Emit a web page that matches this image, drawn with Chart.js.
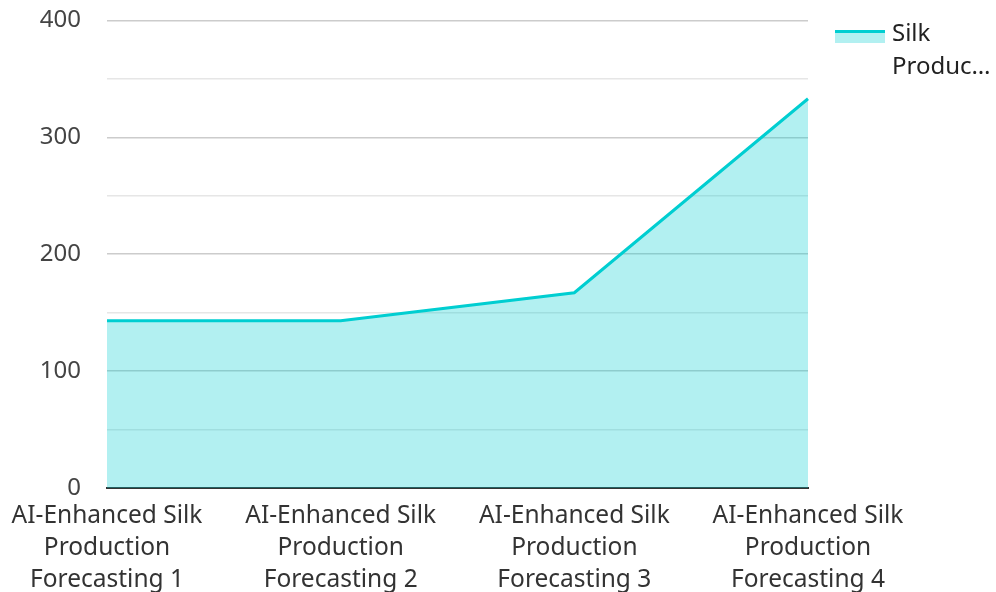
<!DOCTYPE html>
<html>
<head>
<meta charset="utf-8">
<script src="https://cdn.jsdelivr.net/npm/chart.js@4.4.1/dist/chart.umd.min.js"></script>
<style>
  html, body { margin: 0; padding: 0; background: #fff; overflow: hidden; }
  #wrap { width: 996px; height: 600px; }
</style>
</head>
<body>
<div id="wrap"><canvas id="myChart" width="996" height="600"></canvas></div>
<script>
var teal = "rgba(0, 206, 209, 1)";
var tealFill = "rgba(0, 206, 209, 0.3)";

var xValues = [
  ["AI-Enhanced Silk", "Production", "Forecasting 1"],
  ["AI-Enhanced Silk", "Production", "Forecasting 2"],
  ["AI-Enhanced Silk", "Production", "Forecasting 3"],
  ["AI-Enhanced Silk", "Production", "Forecasting 4"]
];
var yValues = [143, 143, 167, 333];
var seriesName = "Silk Production";
var legendLines = ["Silk", "Produc\u2026"];

var font = "'Noto Sans', 'Open Sans', sans-serif";

// legend swatch: light box with a thick line on top
var legendSwatch = {
  id: "legendSwatch",
  afterDraw: function (chart) {
    var lg = chart.legend;
    if (!lg || !lg.legendHitBoxes) return;
    var ctx = chart.ctx;
    lg.legendHitBoxes.forEach(function (hb) {
      var x = hb.left + 5;
      var top = hb.top + 8;
      ctx.save();
      ctx.fillStyle = tealFill;
      ctx.fillRect(x, top + 3, 50, 10);
      ctx.strokeStyle = teal;
      ctx.lineWidth = 3;
      ctx.beginPath();
      ctx.moveTo(x, top + 1.5);
      ctx.lineTo(x + 50, top + 1.5);
      ctx.stroke();
      ctx.restore();
    });
  }
};

new Chart("myChart", {
  type: "line",
  data: {
    labels: xValues,
    datasets: [{
      label: seriesName,
      data: yValues,
      borderColor: teal,
      backgroundColor: tealFill,
      borderWidth: 3,
      fill: "origin",
      tension: 0,
      pointRadius: 0,
      pointHoverRadius: 0
    }]
  },
  options: {
    responsive: false,
    animation: false,
    layout: { padding: { top: 0, left: 19, right: 0, bottom: 0 } },
    plugins: {
      tooltip: { enabled: false },
      legend: {
        position: "right",
        align: "start",
        maxWidth: 188,
        labels: {
          font: { family: font, size: 24, lineHeight: "33px" },
          color: "#222",
          boxWidth: 50,
          boxHeight: 13,
          padding: 22,
          generateLabels: function (chart) {
            return [{
              text: legendLines,
              fillStyle: "rgba(0,0,0,0)",
              strokeStyle: "rgba(0,0,0,0)",
              lineWidth: 0,
              fontColor: "#222",
              datasetIndex: 0
            }];
          }
        }
      }
    },
    scales: {
      x: {
        offset: false,
        grid: { display: false },
        border: { display: true, color: "#333", width: 2 },
        ticks: {
          autoSkip: false,
          maxRotation: 0,
          padding: 4,
          color: "#333",
          font: { family: font, size: 24.5, lineHeight: "32px" }
        }
      },
      y: {
        min: 0,
        max: 400,
        afterFit: function (scale) { scale.width = 88; },
        border: { display: false },
        grid: {
          drawTicks: true,
          tickLength: 20,
          tickColor: "rgba(0,0,0,0)",
          color: function (c) {
            return c.tick.value % 100 === 0 ? "#cccccc" : "#e6e6e6";
          },
          lineWidth: 1.5
        },
        ticks: {
          stepSize: 50,
          padding: 6,
          color: "#444",
          font: { family: font, size: 24 },
          callback: function (v) { return v % 100 === 0 ? v : ""; }
        }
      }
    }
  },
  plugins: [legendSwatch]
});
</script>
</body>
</html>
